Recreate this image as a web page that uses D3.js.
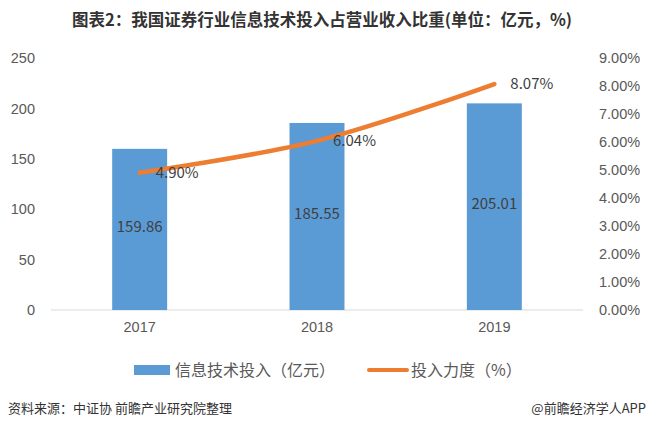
<!DOCTYPE html>
<html><head><meta charset="utf-8">
<script src="https://cdn.jsdelivr.net/npm/d3@7"></script>
<style>
html,body{margin:0;padding:0;background:#fff;}
svg{display:block;font-family:"Noto Sans CJK SC","Noto Sans",sans-serif;}
</style></head>
<body><svg id="c" width="648" height="428"></svg>
<script>
const categories = ["2017", "2018", "2019"];
const investValues = [159.86, 185.55, 205.01];
const ratioValues = [4.90, 6.04, 8.07];
const leftTicks = [0, 50, 100, 150, 200, 250];
const rightTicks = [0, 1, 2, 3, 4, 5, 6, 7, 8, 9];
const seriesNames = ["信息技术投入（亿元）", "投入力度（%）"];
const titleText = "图表2：我国证券行业信息技术投入占营业收入比重(单位：亿元，%)";
const sourceText = "资料来源：中证协 前瞻产业研究院整理";
const brandText = "@前瞻经济学人APP";

const svg = d3.select("#c");
const W = 648, H = 428;
const m = {left: 51, right: 65, top: 58, bottom: 118};
const x0 = m.left, x1 = W - m.right, yTop = m.top, yBot = H - m.bottom;

const x = d3.scaleBand().domain(categories).range([x0, x1]).paddingInner(0.69).paddingOuter(0.345);
const yL = d3.scaleLinear().domain([0, 250]).range([yBot, yTop]);
const yR = d3.scaleLinear().domain([0, 9]).range([yBot, yTop]);

const blue = "#5B9BD5", orange = "#ED7D31";

// title
svg.append("text").attr("x", 322).attr("y", 26).attr("text-anchor", "middle")
  .attr("font-size", 16.5).attr("font-weight", "bold").attr("fill", "#333")
  .text(titleText);

// baseline
svg.append("line").attr("x1", x0).attr("x2", x1).attr("y1", yBot).attr("y2", yBot)
  .attr("stroke", "#d9d9d9").attr("stroke-width", 1);

// left axis
const gL = svg.append("g").attr("transform", `translate(${x0},0)`)
  .call(d3.axisLeft(yL).tickValues(leftTicks).tickSize(0).tickPadding(16).tickFormat(d3.format("d")));
gL.select(".domain").remove();
gL.selectAll("text").attr("font-size", 14.5).attr("fill", "#595959").attr("font-family", "inherit");

// right axis
const gR = svg.append("g").attr("transform", `translate(${x1},0)`)
  .call(d3.axisRight(yR).tickValues(rightTicks).tickSize(0).tickPadding(16).tickFormat(d => d.toFixed(2) + "%"));
gR.select(".domain").remove();
gR.selectAll("text").attr("font-size", 14.5).attr("fill", "#595959").attr("font-family", "inherit");

// x axis
const gX = svg.append("g").attr("transform", `translate(0,${yBot})`)
  .call(d3.axisBottom(x).tickSize(0).tickPadding(12));
gX.select(".domain").remove();
gX.selectAll("text").attr("font-size", 14.5).attr("fill", "#595959").attr("font-family", "inherit");

// bars
svg.append("g").selectAll("rect").data(investValues).join("rect")
  .attr("x", (d, i) => x(categories[i]))
  .attr("width", x.bandwidth())
  .attr("y", d => yL(d))
  .attr("height", d => yBot - yL(d))
  .attr("fill", blue);

// bar labels
svg.append("g").selectAll("text").data(investValues).join("text")
  .attr("x", (d, i) => x(categories[i]) + x.bandwidth() / 2)
  .attr("y", d => (yL(d) + yBot) / 2 - 3)
  .attr("dy", "0.35em")
  .attr("text-anchor", "middle")
  .attr("font-size", 15).attr("fill", "#404040")
  .text(d => d.toFixed(2));

// line
const cx = (i) => x(categories[i]) + x.bandwidth() / 2;
const line = d3.line().x((d, i) => cx(i)).y(d => yR(d)).curve(d3.curveCatmullRom.alpha(0.5));
svg.append("path").datum(ratioValues).attr("d", line)
  .attr("fill", "none").attr("stroke", orange).attr("stroke-width", 4.5).attr("stroke-linecap", "round");

// line labels
svg.append("g").selectAll("text").data(ratioValues).join("text")
  .attr("x", (d, i) => cx(i) + 16)
  .attr("y", d => yR(d))
  .attr("dy", "0.35em")
  .attr("font-size", 15).attr("fill", "#404040")
  .text(d => d.toFixed(2) + "%");

// legend
const lg = svg.append("g");
lg.append("rect").attr("x", 134).attr("y", 365).attr("width", 36).attr("height", 10).attr("fill", blue);
lg.append("text").attr("x", 175).attr("y", 370).attr("dy", "0.35em").attr("font-size", 16).attr("fill", "#595959").text(seriesNames[0]);
lg.append("line").attr("x1", 369).attr("x2", 407).attr("y1", 370).attr("y2", 370).attr("stroke", orange).attr("stroke-width", 4).attr("stroke-linecap", "round");
lg.append("text").attr("x", 411).attr("y", 370).attr("dy", "0.35em").attr("font-size", 16).attr("fill", "#595959").text(seriesNames[1]);

// footer
svg.append("text").attr("x", 8).attr("y", 408).attr("dy", "0.35em").attr("font-size", 13).attr("fill", "#333").text(sourceText);
svg.append("text").attr("x", 646).attr("y", 408).attr("dy", "0.35em").attr("text-anchor", "end").attr("font-size", 13).attr("fill", "#333").text(brandText);
</script>
</body></html>
